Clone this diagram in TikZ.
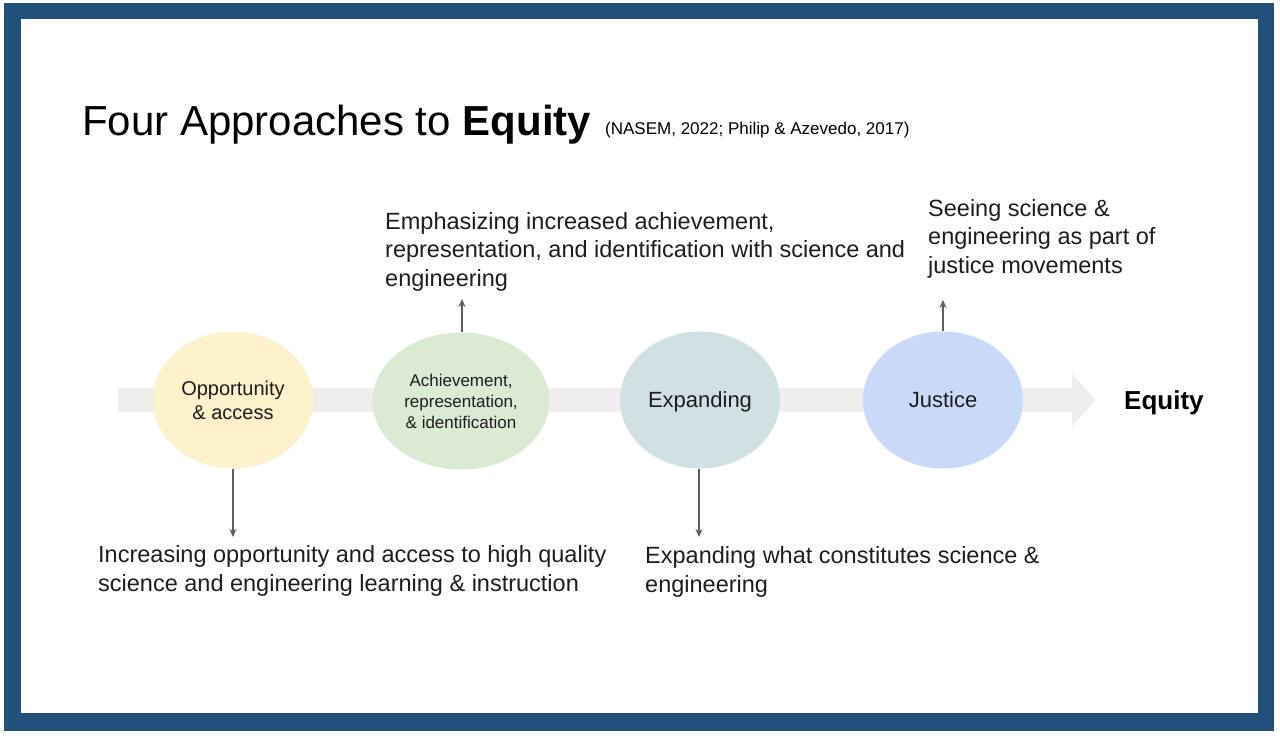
\documentclass[tikz,border=0pt]{standalone}
\usepackage{fontspec}
\setmainfont{Liberation Sans}
\usetikzlibrary{shapes.geometric,arrows.meta}
\definecolor{frameblue}{RGB}{33,80,122}
\definecolor{bandgray}{RGB}{238,238,238}
\definecolor{oppfill}{RGB}{253,242,204}
\definecolor{achfill}{RGB}{218,234,211}
\definecolor{expfill}{RGB}{208,224,227}
\definecolor{jusfill}{RGB}{201,218,248}
\definecolor{linkgray}{RGB}{95,95,95}
\definecolor{textdark}{RGB}{30,30,30}
\tikzset{
  stage/.style={ellipse, minimum width=160pt, minimum height=137pt, inner sep=0pt, align=center, text=textdark},
  desc/.style={anchor=base west, align=left, inner sep=0pt, font=\fontsize{23.5}{28.5}\selectfont, text=textdark},
  link/.style={draw=linkgray, line width=1.1pt, -{Stealth[length=8pt,width=7pt]}}
}
\begin{document}
\begin{tikzpicture}[x=1pt,y=-1pt]
\useasboundingbox (0,0) rectangle (1280,740);
% frame
\fill[frameblue] (4,3) rectangle (1274,731);
\fill[white] (21,19) rectangle (1258,713);
% title
\node[anchor=base west, inner sep=0pt, font=\fontsize{42}{50}\selectfont] (title) at (82,135) {Four Approaches to \textbf{Equity}};
\node[anchor=base west, inner sep=0pt, font=\fontsize{17}{20}\selectfont] (cite) at (605,134) {(NASEM, 2022; Philip \& Azevedo, 2017)};
% band arrow
\fill[bandgray] (118,388) -- (1072,388) -- (1072,374) -- (1096,400) -- (1072,426) -- (1072,412) -- (118,412) -- cycle;
% stages
\node[stage, fill=oppfill, font=\fontsize{20}{24}\selectfont] (opp) at (233,400) {Opportunity\\\& access};
\node[stage, fill=achfill, minimum width=177pt, font=\fontsize{17}{21}\selectfont] (ach) at (461,401) {Achievement,\\representation,\\\& identification};
\node[stage, fill=expfill, font=\fontsize{22}{26}\selectfont, text depth=0pt] (exp) at (700,400) {Expanding};
\node[stage, fill=jusfill, font=\fontsize{22}{26}\selectfont] (jus) at (943,400) {Justice};
\node[anchor=base west, inner sep=0pt, font=\fontsize{26}{30}\selectfont\bfseries] (equity) at (1124,409) {Equity};
% descriptions (anchored at the baseline of their last line)
\node[desc] (dach) at (385,286) {Emphasizing increased achievement,\\representation, and identification with science and\\engineering};
\node[desc] (djus) at (928,273) {Seeing science \&\\engineering as part of\\justice movements};
\node[desc] (dopp) at (98,591) {Increasing opportunity and access to high quality\\science and engineering learning \& instruction};
\node[desc] (dexp) at (645,592) {Expanding what constitutes science \&\\engineering};
% connectors
\coordinate (ta) at (462,299);
\coordinate (tj) at (943,300);
\coordinate (bo) at (233,537);
\coordinate (be) at (699,537);
\draw[link] (ach.north -| ta) -- (ta);
\draw[link] (jus.north) -- (tj);
\draw[link] (opp.south) -- (bo);
\draw[link] (exp.south -| be) -- (be);
\end{tikzpicture}
\end{document}
